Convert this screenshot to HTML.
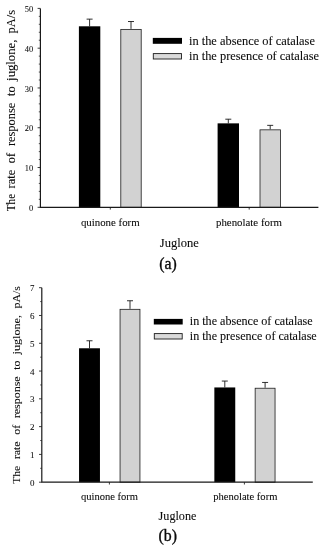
<!DOCTYPE html>
<html><head><meta charset="utf-8"><title>Juglone response</title>
<style>
html,body{margin:0;padding:0;background:#fff}
svg{display:block}
text{font-family:'Liberation Serif', 'Times New Roman', serif;fill:#0a0a0a;stroke:#0a0a0a;stroke-width:0.08px}
.pl{stroke-width:0.35px}
.tk{stroke-width:0.05px}
</style></head><body>
<svg width="323" height="550" viewBox="0 0 323 550">
<rect width="323" height="550" fill="#fff"/>
<g>
<line x1="89.60" y1="26.30" x2="89.60" y2="19.14" stroke="#1a1a1a" stroke-width="0.9"/>
<line x1="86.60" y1="19.14" x2="92.60" y2="19.14" stroke="#1a1a1a" stroke-width="0.9"/>
<rect x="78.90" y="26.30" width="21.40" height="181.00" fill="#000"/>
<line x1="131.00" y1="28.89" x2="131.00" y2="21.53" stroke="#1a1a1a" stroke-width="0.9"/>
<line x1="128.00" y1="21.53" x2="134.00" y2="21.53" stroke="#1a1a1a" stroke-width="0.9"/>
<rect x="120.80" y="29.39" width="20.40" height="177.91" fill="#d2d2d2" stroke="#1c1c1c" stroke-width="0.8"/>
<line x1="228.30" y1="123.36" x2="228.30" y2="119.19" stroke="#1a1a1a" stroke-width="0.9"/>
<line x1="225.30" y1="119.19" x2="231.30" y2="119.19" stroke="#1a1a1a" stroke-width="0.9"/>
<rect x="217.60" y="123.36" width="21.40" height="83.94" fill="#000"/>
<line x1="270.20" y1="129.33" x2="270.20" y2="125.35" stroke="#1a1a1a" stroke-width="0.9"/>
<line x1="267.20" y1="125.35" x2="273.20" y2="125.35" stroke="#1a1a1a" stroke-width="0.9"/>
<rect x="260.00" y="129.83" width="20.40" height="77.47" fill="#d2d2d2" stroke="#1c1c1c" stroke-width="0.8"/>
<path d="M40.40 8.40V207.30H318.40" fill="none" stroke="#1a1a1a" stroke-width="1.2"/>
<line x1="37.60" y1="207.30" x2="40.40" y2="207.30" stroke="#1a1a1a" stroke-width="0.85"/>
<text x="33.20" y="211.00" font-size="8.4" class="tk" text-anchor="end">0</text>
<line x1="38.80" y1="199.34" x2="40.40" y2="199.34" stroke="#1a1a1a" stroke-width="0.75"/>
<line x1="38.80" y1="191.39" x2="40.40" y2="191.39" stroke="#1a1a1a" stroke-width="0.75"/>
<line x1="38.80" y1="183.43" x2="40.40" y2="183.43" stroke="#1a1a1a" stroke-width="0.75"/>
<line x1="38.80" y1="175.48" x2="40.40" y2="175.48" stroke="#1a1a1a" stroke-width="0.75"/>
<line x1="37.60" y1="167.52" x2="40.40" y2="167.52" stroke="#1a1a1a" stroke-width="0.85"/>
<text x="33.20" y="171.22" font-size="8.4" class="tk" text-anchor="end">10</text>
<line x1="38.80" y1="159.56" x2="40.40" y2="159.56" stroke="#1a1a1a" stroke-width="0.75"/>
<line x1="38.80" y1="151.61" x2="40.40" y2="151.61" stroke="#1a1a1a" stroke-width="0.75"/>
<line x1="38.80" y1="143.65" x2="40.40" y2="143.65" stroke="#1a1a1a" stroke-width="0.75"/>
<line x1="38.80" y1="135.70" x2="40.40" y2="135.70" stroke="#1a1a1a" stroke-width="0.75"/>
<line x1="37.60" y1="127.74" x2="40.40" y2="127.74" stroke="#1a1a1a" stroke-width="0.85"/>
<text x="33.20" y="131.44" font-size="8.4" class="tk" text-anchor="end">20</text>
<line x1="38.80" y1="119.78" x2="40.40" y2="119.78" stroke="#1a1a1a" stroke-width="0.75"/>
<line x1="38.80" y1="111.83" x2="40.40" y2="111.83" stroke="#1a1a1a" stroke-width="0.75"/>
<line x1="38.80" y1="103.87" x2="40.40" y2="103.87" stroke="#1a1a1a" stroke-width="0.75"/>
<line x1="38.80" y1="95.92" x2="40.40" y2="95.92" stroke="#1a1a1a" stroke-width="0.75"/>
<line x1="37.60" y1="87.96" x2="40.40" y2="87.96" stroke="#1a1a1a" stroke-width="0.85"/>
<text x="33.20" y="91.66" font-size="8.4" class="tk" text-anchor="end">30</text>
<line x1="38.80" y1="80.00" x2="40.40" y2="80.00" stroke="#1a1a1a" stroke-width="0.75"/>
<line x1="38.80" y1="72.05" x2="40.40" y2="72.05" stroke="#1a1a1a" stroke-width="0.75"/>
<line x1="38.80" y1="64.09" x2="40.40" y2="64.09" stroke="#1a1a1a" stroke-width="0.75"/>
<line x1="38.80" y1="56.14" x2="40.40" y2="56.14" stroke="#1a1a1a" stroke-width="0.75"/>
<line x1="37.60" y1="48.18" x2="40.40" y2="48.18" stroke="#1a1a1a" stroke-width="0.85"/>
<text x="33.20" y="51.88" font-size="8.4" class="tk" text-anchor="end">40</text>
<line x1="38.80" y1="40.22" x2="40.40" y2="40.22" stroke="#1a1a1a" stroke-width="0.75"/>
<line x1="38.80" y1="32.27" x2="40.40" y2="32.27" stroke="#1a1a1a" stroke-width="0.75"/>
<line x1="38.80" y1="24.31" x2="40.40" y2="24.31" stroke="#1a1a1a" stroke-width="0.75"/>
<line x1="38.80" y1="16.36" x2="40.40" y2="16.36" stroke="#1a1a1a" stroke-width="0.75"/>
<line x1="37.60" y1="8.40" x2="40.40" y2="8.40" stroke="#1a1a1a" stroke-width="0.85"/>
<text x="33.20" y="12.10" font-size="8.4" class="tk" text-anchor="end">50</text>
<line x1="110.30" y1="207.30" x2="110.30" y2="209.60" stroke="#1a1a1a" stroke-width="0.85"/>
<line x1="249.20" y1="207.30" x2="249.20" y2="209.60" stroke="#1a1a1a" stroke-width="0.85"/>
<text x="110.30" y="225.50" font-size="10.85" text-anchor="middle">quinone form</text>
<text x="249.00" y="225.50" font-size="10.85" text-anchor="middle">phenolate form</text>
<rect x="152.80" y="37.90" width="29.20" height="5.90" fill="#000"/>
<rect x="153.30" y="53.60" width="28.20" height="5.40" fill="#dadada" stroke="#1c1c1c" stroke-width="0.9"/>
<text x="189.00" y="44.80" font-size="12.4">in the absence of catalase</text>
<text x="189.00" y="59.50" font-size="12.4">in the presence of catalase</text>
<text x="159.80" y="246.70" font-size="11.9" textLength="39.0" lengthAdjust="spacingAndGlyphs">Juglone</text>
<text x="159.30" y="268.70" font-size="15.8" class="pl">(a)</text>
<text transform="translate(14.50 211.20) rotate(-90)" font-size="11.8"><tspan x="0.00" textLength="17.3" lengthAdjust="spacingAndGlyphs">The</tspan> <tspan x="22.80" textLength="18.6" lengthAdjust="spacingAndGlyphs">rate</tspan> <tspan x="48.00" textLength="10.3" lengthAdjust="spacingAndGlyphs">of</tspan> <tspan x="65.10" textLength="43.4" lengthAdjust="spacingAndGlyphs">response</tspan> <tspan x="115.30" textLength="9.65" lengthAdjust="spacingAndGlyphs">to</tspan> <tspan x="130.30" textLength="41.3" lengthAdjust="spacingAndGlyphs">juglone,</tspan> <tspan x="177.80" textLength="23.4" lengthAdjust="spacingAndGlyphs">pA/s</tspan></text>
</g>
<g>
<line x1="89.50" y1="348.27" x2="89.50" y2="340.77" stroke="#1a1a1a" stroke-width="0.9"/>
<line x1="86.50" y1="340.77" x2="92.50" y2="340.77" stroke="#1a1a1a" stroke-width="0.9"/>
<rect x="79.05" y="348.27" width="20.90" height="133.93" fill="#000"/>
<line x1="130.00" y1="308.82" x2="130.00" y2="300.76" stroke="#1a1a1a" stroke-width="0.9"/>
<line x1="127.00" y1="300.76" x2="133.00" y2="300.76" stroke="#1a1a1a" stroke-width="0.9"/>
<rect x="120.05" y="309.32" width="19.90" height="172.88" fill="#d2d2d2" stroke="#1c1c1c" stroke-width="0.8"/>
<line x1="224.80" y1="387.45" x2="224.80" y2="381.06" stroke="#1a1a1a" stroke-width="0.9"/>
<line x1="221.80" y1="381.06" x2="227.80" y2="381.06" stroke="#1a1a1a" stroke-width="0.9"/>
<rect x="214.35" y="387.45" width="20.90" height="94.75" fill="#000"/>
<line x1="265.10" y1="387.73" x2="265.10" y2="382.45" stroke="#1a1a1a" stroke-width="0.9"/>
<line x1="262.10" y1="382.45" x2="268.10" y2="382.45" stroke="#1a1a1a" stroke-width="0.9"/>
<rect x="255.15" y="388.23" width="19.90" height="93.97" fill="#d2d2d2" stroke="#1c1c1c" stroke-width="0.8"/>
<path d="M41.80 287.70V482.20H312.80" fill="none" stroke="#1a1a1a" stroke-width="1.2"/>
<line x1="39.00" y1="482.20" x2="41.80" y2="482.20" stroke="#1a1a1a" stroke-width="0.85"/>
<text x="34.40" y="485.65" font-size="9.0" class="tk" text-anchor="end">0</text>
<line x1="40.20" y1="468.31" x2="41.80" y2="468.31" stroke="#1a1a1a" stroke-width="0.75"/>
<line x1="39.00" y1="454.41" x2="41.80" y2="454.41" stroke="#1a1a1a" stroke-width="0.85"/>
<text x="34.40" y="457.86" font-size="9.0" class="tk" text-anchor="end">1</text>
<line x1="40.20" y1="440.52" x2="41.80" y2="440.52" stroke="#1a1a1a" stroke-width="0.75"/>
<line x1="39.00" y1="426.63" x2="41.80" y2="426.63" stroke="#1a1a1a" stroke-width="0.85"/>
<text x="34.40" y="430.08" font-size="9.0" class="tk" text-anchor="end">2</text>
<line x1="40.20" y1="412.74" x2="41.80" y2="412.74" stroke="#1a1a1a" stroke-width="0.75"/>
<line x1="39.00" y1="398.84" x2="41.80" y2="398.84" stroke="#1a1a1a" stroke-width="0.85"/>
<text x="34.40" y="402.29" font-size="9.0" class="tk" text-anchor="end">3</text>
<line x1="40.20" y1="384.95" x2="41.80" y2="384.95" stroke="#1a1a1a" stroke-width="0.75"/>
<line x1="39.00" y1="371.06" x2="41.80" y2="371.06" stroke="#1a1a1a" stroke-width="0.85"/>
<text x="34.40" y="374.51" font-size="9.0" class="tk" text-anchor="end">4</text>
<line x1="40.20" y1="357.16" x2="41.80" y2="357.16" stroke="#1a1a1a" stroke-width="0.75"/>
<line x1="39.00" y1="343.27" x2="41.80" y2="343.27" stroke="#1a1a1a" stroke-width="0.85"/>
<text x="34.40" y="346.72" font-size="9.0" class="tk" text-anchor="end">5</text>
<line x1="40.20" y1="329.38" x2="41.80" y2="329.38" stroke="#1a1a1a" stroke-width="0.75"/>
<line x1="39.00" y1="315.49" x2="41.80" y2="315.49" stroke="#1a1a1a" stroke-width="0.85"/>
<text x="34.40" y="318.94" font-size="9.0" class="tk" text-anchor="end">6</text>
<line x1="40.20" y1="301.59" x2="41.80" y2="301.59" stroke="#1a1a1a" stroke-width="0.75"/>
<line x1="39.00" y1="287.70" x2="41.80" y2="287.70" stroke="#1a1a1a" stroke-width="0.85"/>
<text x="34.40" y="291.15" font-size="9.0" class="tk" text-anchor="end">7</text>
<line x1="109.40" y1="482.20" x2="109.40" y2="484.50" stroke="#1a1a1a" stroke-width="0.85"/>
<line x1="244.40" y1="482.20" x2="244.40" y2="484.50" stroke="#1a1a1a" stroke-width="0.85"/>
<text x="109.50" y="499.80" font-size="10.55" text-anchor="middle">quinone form</text>
<text x="245.30" y="499.80" font-size="10.55" text-anchor="middle">phenolate form</text>
<rect x="153.80" y="318.90" width="28.90" height="5.60" fill="#000"/>
<rect x="154.30" y="333.60" width="27.90" height="5.40" fill="#dadada" stroke="#1c1c1c" stroke-width="0.9"/>
<text x="189.80" y="325.30" font-size="12.1">in the absence of catalase</text>
<text x="189.80" y="339.50" font-size="12.1">in the presence of catalase</text>
<text x="158.60" y="520.20" font-size="11.6" textLength="37.8" lengthAdjust="spacingAndGlyphs">Juglone</text>
<text x="158.60" y="540.90" font-size="15.8" class="pl">(b)</text>
<text transform="translate(20.20 483.80) rotate(-90)" font-size="11.4"><tspan x="0.00" textLength="18.0" lengthAdjust="spacingAndGlyphs">The</tspan> <tspan x="24.50" textLength="18.0" lengthAdjust="spacingAndGlyphs">rate</tspan> <tspan x="49.00" textLength="10.0" lengthAdjust="spacingAndGlyphs">of</tspan> <tspan x="65.50" textLength="42.0" lengthAdjust="spacingAndGlyphs">response</tspan> <tspan x="114.00" textLength="9.3" lengthAdjust="spacingAndGlyphs">to</tspan> <tspan x="129.40" textLength="39.4" lengthAdjust="spacingAndGlyphs">juglone,</tspan> <tspan x="175.40" textLength="22.4" lengthAdjust="spacingAndGlyphs">pA/s</tspan></text>
</g>
</svg>
</body></html>
